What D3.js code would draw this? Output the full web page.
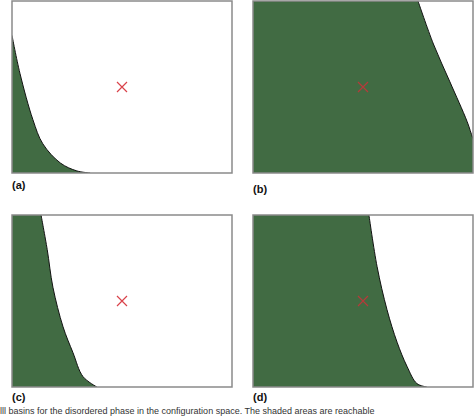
<!DOCTYPE html>
<html><head><meta charset="utf-8">
<script src="https://cdn.jsdelivr.net/npm/d3@7"></script>
<style>body{margin:0;background:#fff}svg{display:block}</style>
</head><body>
<svg id="c" width="474" height="417"></svg>
<script>
const panelLabels = ["(a)", "(b)", "(c)", "(d)"];
// boundary curves: x fraction of panel width at each y fraction of panel height
const curveA = [[0,0.80],[0.036,0.58],[0.095,0.31],[0.14,0.17],[0.22,0.058],[0.295,0.012],[0.355,0]];
const curveB = [[0.75,1.0],[0.82,0.75],[0.895,0.53],[0.973,0.30],[1.0,0.20],[1.04,0.08],[1.08,0]];
const curveC = [[0.132,1],[0.16,0.80],[0.186,0.58],[0.232,0.35],[0.277,0.20],[0.323,0.06],[0.386,0]];
const curveD = [[0.527,1],[0.564,0.70],[0.609,0.45],[0.655,0.26],[0.70,0.12],[0.745,0.02],[0.79,0]];
const curves = [curveA, curveB, curveC, curveD];
const markerPos = [0.5, 0.5];

const svg = d3.select("#c");
const panels = [
  {x:12,y:1,w:220,h:172,lx:12,ly:189},
  {x:253,y:1,w:220,h:172,lx:253,ly:193},
  {x:12,y:215,w:220,h:172,lx:12,ly:401},
  {x:253,y:215,w:220,h:172,lx:253,ly:401}
];
const green = "#416b43";
panels.forEach((p,i)=>{
  const xs = d3.scaleLinear().domain([0,1]).range([p.x,p.x+p.w]);
  const ys = d3.scaleLinear().domain([0,1]).range([p.y+p.h,p.y]);
  const id = "clip"+i;
  svg.append("clipPath").attr("id",id).append("rect").attr("x",p.x).attr("y",p.y).attr("width",p.w).attr("height",p.h);
  const g = svg.append("g");
  g.append("rect").attr("x",p.x).attr("y",p.y).attr("width",p.w).attr("height",p.h).attr("fill","#fff");
  const pts = curves[i].slice().sort((a,b)=>a[1]-b[1]);
  const area = d3.area().curve(d3.curveCatmullRom.alpha(0.5))
    .y(d=>ys(d[1])).x0(xs(0)).x1(d=>xs(d[0]));
  const line = d3.line().curve(d3.curveCatmullRom.alpha(0.5)).x(d=>xs(d[0])).y(d=>ys(d[1]));
  const cg = g.append("g").attr("clip-path",`url(#${id})`);
  cg.append("path").attr("d",area(pts)).attr("fill",green);
  cg.append("path").attr("d",line(pts)).attr("fill","none").attr("stroke","#111").attr("stroke-width",1);
  g.append("rect").attr("x",p.x).attr("y",p.y).attr("width",p.w).attr("height",p.h)
    .attr("fill","none").attr("stroke","#8a8a8a").attr("stroke-width",1.5);
  const cx = xs(markerPos[0]), cy = ys(markerPos[1]), r = 5;
  g.append("path").attr("d",`M${cx-r},${cy-r}L${cx+r},${cy+r}M${cx-r},${cy+r}L${cx+r},${cy-r}`)
    .attr("stroke", i%2? "#b53a3a":"#d9424a").attr("stroke-width",1.2);
  svg.append("text").attr("x",p.lx).attr("y",p.ly).text(panelLabels[i])
    .attr("font-family","Liberation Sans, Arial, sans-serif").attr("font-weight","bold").attr("font-size",11).attr("fill","#111");
});
svg.append("text").attr("x",0).attr("y",414)
  .text("lll basins for the disordered phase in the configuration space. The shaded areas are reachable")
  .attr("font-family","Liberation Sans, Arial, sans-serif").attr("font-size",9).attr("fill","#333");
</script>
</body></html>
